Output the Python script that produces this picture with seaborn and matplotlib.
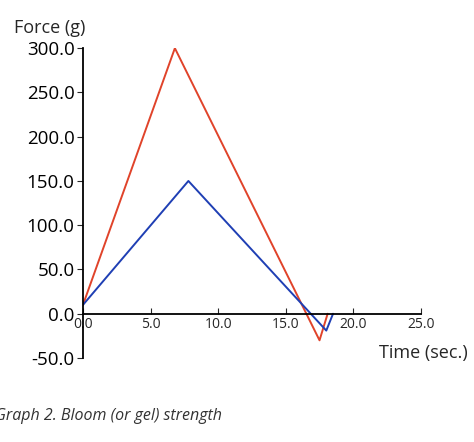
import matplotlib
matplotlib.use("Agg")
from matplotlib import pyplot as plt
import seaborn as sns
import pandas as pd

sns.set_style("ticks")
plt.rcParams['font.family'] = ['Open Sans', 'DejaVu Sans']

red_time = [0, 6.8, 17.5, 18.1]
red_force = [10, 300, -30, 0]
blue_time = [0, 7.8, 18.0, 18.5]
blue_force = [10, 150, -19, 0]
x_ticks = [0, 5, 10, 15, 20, 25]
y_ticks = [-50, 0, 50, 100, 150, 200, 250, 300]

df = pd.concat([
    pd.DataFrame({"time": red_time, "force": red_force, "s": "red"}),
    pd.DataFrame({"time": blue_time, "force": blue_force, "s": "blue"}),
])

fig = plt.figure(figsize=(4.74, 4.42), dpi=100)
ax = fig.add_axes([0.175, 0.19, 0.713, 0.701])
sns.lineplot(data=df, x="time", y="force", hue="s", sort=False,
             palette={"red": "#e0432a", "blue": "#1f3fb4"}, linewidth=1.4,
             legend=False, ax=ax)

ax.set_xlim(0, 25)
ax.set_ylim(-50, 300)
ax.set_xticks(x_ticks)
ax.set_xticklabels([f"{v:.1f}" for v in x_ticks], fontsize=13.5, color="black")
ax.set_yticks(y_ticks)
ax.set_yticklabels([f"{v:.1f}" for v in y_ticks], fontsize=13.5, color="black")
ax.spines["top"].set_visible(False)
ax.spines["right"].set_visible(False)
ax.spines["bottom"].set_position(("data", 0))
ax.spines["left"].set_linewidth(1.3)
ax.spines["bottom"].set_linewidth(1.3)
ax.spines["left"].set_color("black")
ax.spines["bottom"].set_color("black")
ax.tick_params(axis="x", direction="in", length=4, pad=2)
ax.tick_params(axis="y", direction="out", length=4, pad=2)
ax.set_xlabel("")
ax.set_ylabel("")
fig.text(0.03, 0.925, "Force (g)", fontsize=13)
fig.text(0.80, 0.19, "Time (sec.)", fontsize=13)
fig.text(-0.01, 0.05, "Graph 2. Bloom (or gel) strength", fontsize=11.5,
         style="italic", color="#333333")

fig.savefig("out.png", dpi=100)
